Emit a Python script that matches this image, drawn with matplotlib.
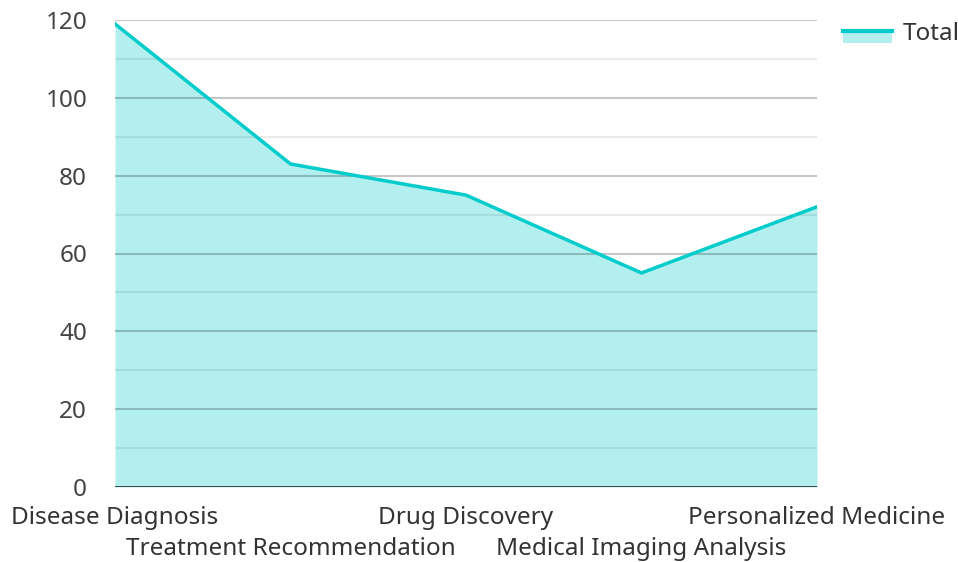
import matplotlib.pyplot as plt
from matplotlib.lines import Line2D
from matplotlib.patches import Rectangle
from matplotlib.legend_handler import HandlerBase

plt.rcParams['font.family'] = ['Noto Sans', 'DejaVu Sans']

# data
categories = ['Disease Diagnosis', 'Treatment Recommendation', 'Drug Discovery',
              'Medical Imaging Analysis', 'Personalized Medicine']
totals = [119, 83, 75, 55, 72]
yticks = [0, 20, 40, 60, 80, 100, 120]

line_col = '#00cccc'
fill_col = '#b2efee'
fs = 17.5


class LineFillHandler(HandlerBase):
    # line on top with the area swatch hanging below it
    def create_artists(self, legend, orig_handle, xdescent, ydescent, width, height, fontsize, trans):
        mid = -ydescent + height / 2
        r = Rectangle((-xdescent, mid - height * 0.65), width, height * 0.65,
                      facecolor=fill_col, edgecolor='none', transform=trans)
        l = Line2D([-xdescent, -xdescent + width], [mid, mid], color=line_col, linewidth=3,
                   transform=trans)
        return [r, l]


fig = plt.figure(figsize=(9.58, 5.62), dpi=100)
ax = fig.add_axes([115 / 958, 1 - 487 / 562, (817 - 115) / 958, (487 - 20) / 562])

x = list(range(len(categories)))
ax.fill_between(x, totals, 0, color=fill_col, linewidth=0, zorder=2)
ax.plot(x, totals, color=line_col, linewidth=2.5, zorder=4)

ax.set_xlim(0, len(categories) - 1)
ax.set_ylim(0, 120)

# grid: major every 20, lighter minor every 10, drawn over the fill
for v in range(10, 121, 10):
    if v % 20 == 0:
        ax.axhline(v, color='black', alpha=0.22, linewidth=1.5, zorder=3)
    else:
        ax.axhline(v, color='black', alpha=0.08, linewidth=1.5, zorder=3)
ax.axhline(0, color='#333333', linewidth=2, zorder=5)

for s in ax.spines.values():
    s.set_visible(False)

ax.set_yticks(yticks)
ax.set_yticklabels([str(t) for t in yticks], fontsize=fs, color='#444444')
ax.tick_params(axis='y', length=0, pad=20)

ax.set_xticks(x)
ax.set_xticklabels(categories, fontsize=fs, color='#333333')
ax.tick_params(axis='x', length=0)
for i, tick in enumerate(ax.xaxis.get_major_ticks()):
    tick.set_pad(36 if i % 2 else 14)

leg = fig.legend([object()], ['Total'], loc='center left',
                 bbox_to_anchor=(843 / 958, 1 - 34 / 562),
                 frameon=False, fontsize=fs, handlelength=2.0, handletextpad=0.45,
                 borderpad=0, borderaxespad=0,
                 handler_map={object: LineFillHandler()})
for t in leg.get_texts():
    t.set_color('#333333')

fig.savefig('out.png', dpi=100)
